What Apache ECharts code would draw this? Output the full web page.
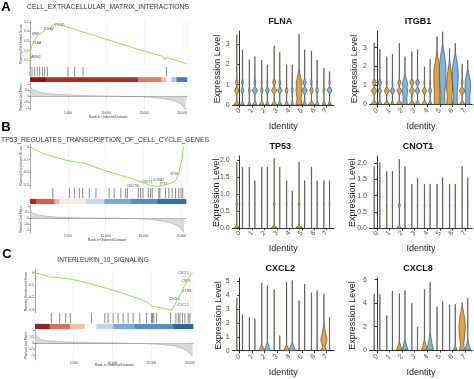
<!DOCTYPE html>
<html><head><meta charset="utf-8">
<script src="https://cdn.jsdelivr.net/npm/echarts@6/dist/echarts.min.js"></script>
<style>html,body{margin:0;padding:0;background:#fff}#c{width:474px;height:379px}</style>
</head><body><div id="c"></div>
<script>
// ================= DATA =================
// ---- GSEA panels ----
const rankTicks = [5000, 10000, 15000, 20000];
const metricTicks = [-1, -0.5, 0, 0.5, 1];

const titleA = 'CELL_EXTRACELLULAR_MATRIX_INTERACTIONS';
const esTicksA = [0.1, 0.2, 0.3, 0.4, 0.5];
const esA = [[0,0.03],[50,0.17],[175,0.24],[395,0.28],[833,0.34],[1184,0.37],[1623,0.39],[2061,0.42],[2500,0.43],[2939,0.46],[3377,0.48],[3900,0.47],[6000,0.42],[10000,0.32],[14000,0.22],[17500,0.14],[17720,0.105],[17950,0.13],[20570,0.065]];
const hitsA = [20,263,614,965,1272,1623,1930,2281,5000,5877,6974,17939];
const binsA = [[0,2149,1.0],[2149,14211,0.8],[14211,17281,0.5],[17281,17939,0.25],[17939,18596,0],[18596,19254,-0.3],[19254,20650,-0.7]];
const metricA = [[0,0.97],[30,0.78],[395,0.56],[1053,0.39],[2149,0.25],[3904,0.17],[6974,0.08],[11360,0.03],[14211,0],[15746,-0.06],[17500,-0.17],[18816,-0.33],[19693,-0.56],[20132,-0.78],[20395,-1.06],[20650,-1.12]];
const genesA = [['LAMB2',658,0.134],['FLNA',921,0.283],['VWF',724,0.371],['ITGAV',2460,0.426],['ITGB1',3947,0.468]];

const titleB = 'TP53_REGULATES_TRANSCRIPTION_OF_CELL_CYCLE_GENES';
const esTicksB = [-0.3, -0.2, -0.1, 0];
const esB = [[0,0],[175,-0.013],[1711,-0.052],[4781,-0.104],[7412,-0.131],[9167,-0.17],[11360,-0.209],[13553,-0.248],[14870,-0.279],[15965,-0.3],[17061,-0.308],[17939,-0.295],[18816,-0.279],[19254,-0.261],[19693,-0.209],[19912,-0.144],[20132,-0.091],[20263,-0.026],[20395,0]];
const hitsB = [3026,5219,5877,6535,6974,7851,8728,10482,11140,12018,12675,12895,14342,14649,14956,15658,15965,16184,17061,17193,17939,18377,18816,19254,19693,20000,20219];
const binsB = [[0,833,0.85],[833,3246,0.6],[3246,3904,0.3],[3904,7412,0.05],[7412,9825,-0.2],[9825,13333,-0.45],[13333,16842,-0.6],[16842,20650,-0.8]];
const metricB = [[0,0.97],[30,0.69],[395,0.42],[1053,0.28],[2149,0.17],[3904,0.08],[6974,0.03],[11360,0],[14430,-0.03],[16184,-0.11],[17500,-0.22],[18816,-0.42],[19693,-0.69],[20132,-0.97],[20400,-1.2]];
const genesB = [['CNOT6L',13680,-0.304],['CNOT1',15450,-0.271],['CCNA2',17000,-0.258],['TP53',17660,-0.292],['BTG2',19200,-0.21]];

const titleC = 'INTERLEUKIN_10_SIGNALING';
const esTicksC = [-0.3, -0.2, -0.1, 0];
const esC = [[0,0],[1034,-0.019],[2112,-0.038],[2543,-0.038],[4052,-0.046],[5776,-0.068],[7500,-0.095],[9224,-0.127],[10948,-0.159],[12672,-0.195],[14397,-0.235],[15043,-0.27],[15259,-0.268],[16121,-0.284],[17198,-0.297],[17629,-0.305],[17845,-0.284],[18276,-0.235],[18707,-0.181],[19138,-0.127],[19569,-0.073],[20000,-0.019],[20345,0]];
const hitsC = [2112,3190,3966,4569,7284,9009,9440,10086,10733,11379,12026,12672,13534,14397,15043,15172,15345,15690,17500,18190,18491,18707,19052,19353,19784,20000];
const binsC = [[0,1897,0.9],[1897,4483,0.55],[4483,6422,0.25],[6422,7931,0],[7931,10086,-0.25],[10086,12888,-0.45],[12888,17845,-0.6],[17845,20400,-0.85]];
const metricC = [[0,0.89],[172,0.54],[603,0.32],[1466,0.19],[3190,0.11],[6207,0.05],[10517,0],[13966,-0.03],[16121,-0.11],[17845,-0.22],[18922,-0.41],[19569,-0.62],[20000,-0.81],[20345,-1.08]];
const genesC = [['CXCL1',19148,-0.005],['CSF3',19470,-0.067],['IL1RN',19590,-0.148],['CXCL8',17970,-0.213],['CXCL2',19148,-0.262]];

// ---- Violin panels ----
const identities = ['0','1','2','3','4','5','6','7'];

const FLNA_ticks = [0,1,2,3];
const FLNA_levels = [0, 0.72, 1.12];
const FLNA_orangeMax = [3.46, 2.22, 2.22, 2.92, 1.98, 3.49, 2.67, 1.81];
const FLNA_blueMax   = [2.72, 2.39, 1.98, 2.59, 1.98, 2.72, 2.22, 1.65];
const FLNA_orangeShape = [[1,0.7,0.4],[0.5,0.25,0.1],[0.8,0.45,0.15],[0.9,0.9,0.5],[0.7,0.45,0.1],[[0,1],[0.3,0.6],[0.7,1],[0.9,0.8],[1.1,0.9],[1.5,0.3],[1.8,0.05]],[1,0.55,0.2],[0.6,0.3,0.1]];
const FLNA_blueShape = [[0.6,0.45,0.3],[0.7,0.9,0.3],[0.6,0.6,0.15],[0.7,0.65,0.3],[0.45,0.3,0.1],[0.7,0.8,0.55],[0.6,0.45,0.15],[0.6,0.8,0.2]];

const ITGB1_ticks = [0,1,2,3];
const ITGB1_levels = [0, 0.72, 1.15];
const ITGB1_orangeMax = [3.26, 2.52, 3.23, 2.79, 1.99, 3.58, 2.96, 2.13];
const ITGB1_blueMax   = [2.91, 2.66, 2.52, 2.91, 2.38, 3.84, 3.23, 2.35];
const ITGB1_orangeShape = [[1,0.9,0.6],[0.8,0.85,0.15],[0.9,0.75,0.5],[0.9,0.85,0.65],[0.8,0.7,0.15],[[0,0.9],[0.4,0.75],[0.8,0.9],[1.3,1.0],[1.8,0.95],[2.2,0.6],[2.6,0.2],[2.9,0.05]],[[0,0.9],[0.4,0.7],[0.9,0.95],[1.3,0.85],[1.8,0.5],[2.2,0.15],[2.5,0.03]],[0.8,0.95,0.3]];
const ITGB1_blueShape = [[0.6,0.5,0.55],[0.5,0.75,0.15],[[0,0.7],[0.35,0.55],[0.7,0.8],[0.9,0.65],[1.1,0.8],[1.4,0.35],[1.7,0.05]],[0.65,0.7,0.6],[0.6,0.5,0.2],[[0,0.7],[0.5,0.6],[1.0,0.85],[1.5,1.0],[2.0,1.0],[2.5,0.7],[2.9,0.3],[3.2,0.05]],[[0,0.7],[0.5,0.55],[1.0,0.8],[1.5,0.95],[2.0,0.8],[2.4,0.4],[2.7,0.1]],[[0,0.7],[0.4,0.6],[0.8,0.85],[1.2,0.8],[1.6,0.35],[1.9,0.05]]];

const TP53_ticks = [0,0.5,1,1.5,2];
const TP53_levels = [0, 0.7];
const TP53_orangeMax = [1.95, 1.8, 1.8, 2.07, 1.4, 1.95, 1.8, 1.4];
const TP53_blueMax   = [1.8, 1.4, 1.8, 1.8, 1.1, 1.4, 1.4, 1.4];
const TP53_orangeShape = [[0.8,0.3],[0.05,0.1],[0.05,0.1],[0.9,0.3],[0.05,0.1],[1.0,0.3],[0.05,0.1],[0.05,0.1]];
const TP53_blueShape = [[0.05,0.1],[0.05,0.1],[0.05,0.1],[0.05,0.1],[0.05,0.1],[0.05,0.1],[0.05,0.1],[0.05,0.1]];

const CNOT1_ticks = [0,0.5,1,1.5,2];
const CNOT1_levels = [0, 0.7];
const CNOT1_orangeMax = [1.9, 1.75, 2.12, 1.36, 1.36, 1.36, 1.36, 1.9];
const CNOT1_blueMax   = [2.02, 1.75, 1.9, 1.55, 1.36, 1.55, 1.36, 1.55];
const CNOT1_orangeShape = [[0.05,0.1],[0.05,0.1],[0.8,0.35],[0.05,0.1],[0.05,0.1],[0.05,0.1],[0.05,0.1],[0.05,0.1]];
const CNOT1_blueShape = [[0.05,0.1],[0.05,0.1],[0.05,0.1],[0.05,0.1],[0.05,0.1],[0.05,0.1],[0.05,0.1],[0.05,0.1]];

const CXCL2_ticks = [0,1,2,3,4,5];
const CXCL2_levels = [0];
const CXCL2_orangeMax = [3.8, 2.4, 4.88, 4.4, 4.93, 3.6, 4.16, 4.09];
const CXCL2_blueMax   = [2.6, 2.3, 4.69, 1.08, 5.05, 4.8, 4.33, 2.4];
const CXCL2_orangeShape = [[0.05],[0.05],[0.9],[0.05],[0.9],[0.05],[0.05],[[0,0.85],[0.3,0.4],[0.75,1.0],[1.2,0.6],[1.7,0.2],[2.1,0.03]]];
const CXCL2_blueShape = [[0.05],[0.05],[[0,1.0],[0.25,0.6],[0.6,0]],[0.05],[[0,1.0],[0.25,0.6],[0.6,0]],[0.05],[0.05],[0.05]];

const CXCL8_ticks = [0,2,4,6];
const CXCL8_levels = [0];
const CXCL8_orangeMax = [4.8, 2.93, 4.8, 3.97, 5.17, 3.69, 3.85, 4.05];
const CXCL8_blueMax   = [4.75, 5.03, 5.08, 1.96, 5.78, 4.13, 3.91, 4.41];
const CXCL8_orangeShape = [[0.05],[0.05],[[0,0.85],[0.3,0.5],[0.7,0]],[0.05],[[0,0.9],[0.4,0.5],[0.9,0]],[0.05],[0.05],[[0,0.8],[0.5,0.5],[1.2,0.8],[2.0,1.0],[2.7,0.8],[3.3,0.4],[3.8,0.05]]];
const CXCL8_blueShape = [[0.05],[0.05],[[0,0.95],[0.4,0.5],[0.9,0]],[0.05],[[0,1.0],[0.5,0.6],[1.0,0.3],[1.6,0]],[0.05],[[0,0.55],[0.4,0]],[[0,0.85],[0.4,0.4],[0.9,0]]];

// ================= RENDERING =================
const FONT = '"Liberation Sans", Arial, Helvetica, sans-serif';
const ORANGE = '#E3A33A', BLUE = '#7AB6DF';
const grids = [], xAxes = [], yAxes = [], series = [], graphics = [], barSeriesIdx = [];

function addGrid(g, xa, ya) {
  grids.push(g); const i = grids.length - 1;
  xa.gridIndex = i; ya.gridIndex = i; xAxes.push(xa); yAxes.push(ya); return i;
}
function txt(x, y, text, size, o) {
  o = o || {};
  graphics.push({type:'text', x, y, rotation:o.rot || 0, silent:true,
    style:{text, fontSize:size, fontFamily:FONT, fontWeight:o.bold ? 'bold' : 'normal', fill:o.color || '#222', align:'center', verticalAlign:'middle'}});
}

function gsea(p) {
  const gridLine = {show:true, lineStyle:{color:'#e4e4e4', width:0.5}};
  const axLine = {show:true, lineStyle:{color:'#555', width:0.5}};
  const g1 = addGrid({left:p.left, top:p.esTop, width:p.width, height:p.esH},
    {type:'value', min:0, max:p.rankMax, interval:5000, axisLine:{show:false}, axisTick:{show:false}, axisLabel:{show:false}, splitLine:gridLine},
    {type:'value', min:p.esMin, max:p.esMax, axisLine:axLine,
      axisTick:{show:true, length:1.2, customValues:p.esTicks, lineStyle:{color:'#555', width:0.5}},
      axisLabel:{customValues:p.esTicks, fontSize:3.2, color:'#444', margin:1.2, fontFamily:FONT},
      splitLine:{show:false}});
  series.push({type:'line', xAxisIndex:g1, yAxisIndex:g1, data:p.es, symbol:'none', silent:true,
    lineStyle:{color:'#90d24f', width:0.9}});
  series.push({type:'scatter', xAxisIndex:g1, yAxisIndex:g1, silent:true, symbolSize:1,
    itemStyle:{color:'rgba(0,0,0,0)'},
    data:p.genes.map(d => ({name:d[0], value:[d[1], d[2]]})),
    label:{show:true, position:'inside', formatter:'{b}', fontSize:3.4, color:'#222', fontFamily:FONT}});
  const g2 = addGrid({left:p.left, top:p.barTop, width:p.width, height:p.barH},
    {type:'value', min:0, max:p.rankMax, show:false},
    {type:'value', min:0, max:1, show:false});
  barSeriesIdx.push(series.length);
  series.push({type:'custom', xAxisIndex:g2, yAxisIndex:g2, silent:true, data:p.bins, encode:{x:[0,1], y:2},
    renderItem:(params, api) => {
      const a = api.coord([api.value(0), 0]), b = api.coord([api.value(1), 0.32]);
      return {type:'rect', shape:{x:a[0], y:b[1], width:b[0]-a[0]+0.3, height:a[1]-b[1]}, style:{fill:api.visual('color')}};
    }});
  series.push({type:'custom', xAxisIndex:g2, yAxisIndex:g2, silent:true, data:p.hits.map(r => [r, 1]), encode:{x:0, y:1},
    renderItem:(params, api) => {
      const a = api.coord([api.value(0), 0.36]), b = api.coord([api.value(0), 1]);
      return {type:'line', shape:{x1:a[0], y1:a[1], x2:b[0], y2:b[1]}, style:{stroke:'#3a3a3a', lineWidth:0.6}};
    }});
  const g3 = addGrid({left:p.left, top:p.lowTop, width:p.width, height:p.lowH},
    {type:'value', min:0, max:p.rankMax, interval:5000, axisLine:axLine,
      axisTick:{show:true, length:1.2, customValues:rankTicks, lineStyle:{color:'#555', width:0.5}},
      axisLabel:{customValues:rankTicks, fontSize:3.2, color:'#444', margin:1.2, fontFamily:FONT}, splitLine:gridLine},
    {type:'value', min:p.lowMin, max:p.lowMax, axisLine:axLine,
      axisTick:{show:true, length:1.2, customValues:metricTicks, lineStyle:{color:'#555', width:0.5}},
      axisLabel:{customValues:metricTicks, fontSize:3, color:'#444', margin:1.2, fontFamily:FONT}, splitLine:{show:false}});
  series.push({type:'line', xAxisIndex:g3, yAxisIndex:g3, data:p.metric, symbol:'none', silent:true,
    lineStyle:{color:'#9a9a9a', width:0.5}, areaStyle:{color:'#c9c9c9', origin:0}});
}

function peakKnots(levels, widths, span) {
  const k = [];
  levels.forEach((lv, i) => {
    const w = widths[i] || 0;
    if (lv === 0) k.push([0, w], [span, 0]);
    else k.push([lv - span, 0], [lv, w], [lv + span, 0]);
  });
  return k;
}

function violinSeries(gi, maxArr, shapes, levels, span, side, color) {
  return {
    type:'custom', xAxisIndex:gi, yAxisIndex:gi, silent:true,
    data:maxArr.map((m, i) => [i, m]), encode:{x:0, y:1},
    renderItem:(params, api) => {
      const i = params.dataIndex, cat = api.value(0), mx = api.value(1);
      const band = api.size([1, 0])[0];
      const cx = api.coord([cat, 0])[0] + side * band * 0.225;
      const half = band * 0.26;
      let knots = shapes[i];
      if (typeof knots[0] === 'number') knots = peakKnots(levels, knots, span);
      knots = knots.filter(k => k[0] < mx).sort((a, b) => a[0] - b[0]);
      knots.push([mx, 0]);
      const R = [], L = [];
      knots.forEach(([y, w]) => {
        const py = api.coord([cat, y])[1];
        const hw = Math.max(w * half, 0.12);
        R.push([cx + hw, py]); L.push([cx - hw, py]);
      });
      return {type:'polygon', shape:{points:R.concat(L.reverse())}, style:{fill:color, stroke:'#3a3a3a', lineWidth:0.6}};
    }
  };
}

function violinPanel(c) {
  const idx = [0,1,2,3,4,5,6,7];
  const g = addGrid({left:c.left, top:c.top, width:c.width, height:c.height},
    {type:'value', min:-0.6, max:7.6, axisLine:{show:true, lineStyle:{color:'#000', width:0.8}},
      axisTick:{show:true, length:2.5, customValues:idx, lineStyle:{color:'#000', width:0.8}},
      axisLabel:{customValues:idx, rotate:45, fontSize:7, color:'#4d4d4d', margin:2.5, fontFamily:FONT, formatter:v => identities[v]},
      splitLine:{show:false}},
    {type:'value', min:c.min, max:c.max, axisLine:{show:true, lineStyle:{color:'#000', width:0.8}},
      axisTick:{show:true, length:2.5, customValues:c.ticks, lineStyle:{color:'#000', width:0.8}},
      axisLabel:{customValues:c.ticks, fontSize:7, color:'#4d4d4d', margin:2.5, fontFamily:FONT, formatter:c.fmt || (v => String(v))},
      splitLine:{show:false}});
  series.push(violinSeries(g, c.oMax, c.oShape, c.levels, c.span, -1, ORANGE));
  series.push(violinSeries(g, c.bMax, c.bShape, c.levels, c.span, 1, BLUE));
  txt(c.left + c.width / 2 - 3, c.top - 9.5, c.title, 9, {bold:true, color:'#111'});
  txt(c.ylabX, c.top + c.height / 2, 'Expression Level', 9, {rot:Math.PI / 2, color:'#222'});
  txt(c.left + c.width / 2, c.top + c.height + 19.5, 'Identity', 9, {color:'#222'});
}

gsea({left:30, width:157, rankMax:20650, esTop:21, esH:46, esMin:0.03, esMax:0.51, esTicks:esTicksA, es:esA, genes:genesA,
  barTop:67, barH:15, bins:binsA, hits:hitsA, lowTop:83, lowH:27, lowMin:-1.12, lowMax:1.12, metric:metricA});
gsea({left:30, width:156, rankMax:20650, esTop:144.3, esH:43.7, esMin:-0.32, esMax:0.02, esTicks:esTicksB, es:esB, genes:genesB,
  barTop:188, barH:16, bins:binsB, hits:hitsB, lowTop:205, lowH:28, lowMin:-1.22, lowMax:1.1, metric:metricB});
gsea({left:35, width:158, rankMax:20400, esTop:270, esH:42.7, esMin:-0.325, esMax:0.022, esTicks:esTicksC, es:esC, genes:genesC,
  barTop:313, barH:16, bins:binsC, hits:hitsC, lowTop:330, lowH:30, lowMin:-1.37, lowMax:1.05, metric:metricC});

txt(6, 7, 'A', 13, {bold:true, color:'#000'});
txt(6, 127.5, 'B', 13, {bold:true, color:'#000'});
txt(7, 254.5, 'C', 13, {bold:true, color:'#000'});
txt(108, 7, titleA, 6.8, {color:'#333'});
txt(105, 140, titleB, 6.8, {color:'#333'});
txt(103, 260, titleC, 6.4, {color:'#333'});
[[20.7, 44, 97, 108, 117], [20.7, 166, 219, 107, 240], [26, 291.5, 345, 114, 365]].forEach(a => {
  txt(a[0], a[1], 'Running Enrichment Score', 3.3, {rot:Math.PI / 2, color:'#333'});
  txt(a[0], a[2], 'Ranked List Metric', 3.3, {rot:Math.PI / 2, color:'#333'});
  txt(a[3], a[4], 'Rank in Ordered Dataset', 3.5, {color:'#333'});
});

const fmt1 = v => v.toFixed(1);
violinPanel({title:'FLNA', left:232.2, top:31, width:102, height:76, min:-0.1, max:3.65, ticks:FLNA_ticks, levels:FLNA_levels, span:0.2,
  oMax:FLNA_orangeMax, bMax:FLNA_blueMax, oShape:FLNA_orangeShape, bShape:FLNA_blueShape, ylabX:218});
violinPanel({title:'ITGB1', left:369.5, top:31, width:103, height:76, min:-0.14, max:3.88, ticks:ITGB1_ticks, levels:ITGB1_levels, span:0.22,
  oMax:ITGB1_orangeMax, bMax:ITGB1_blueMax, oShape:ITGB1_orangeShape, bShape:ITGB1_blueShape, ylabX:355});
violinPanel({title:'TP53', left:232.2, top:156, width:102, height:73.5, min:-0.05, max:2.13, ticks:TP53_ticks, levels:TP53_levels, span:0.08, fmt:fmt1,
  oMax:TP53_orangeMax, bMax:TP53_blueMax, oShape:TP53_orangeShape, bShape:TP53_blueShape, ylabX:217});
violinPanel({title:'CNOT1', left:369.5, top:156, width:103, height:73.5, min:-0.04, max:2.22, ticks:CNOT1_ticks, levels:CNOT1_levels, span:0.08, fmt:fmt1,
  oMax:CNOT1_orangeMax, bMax:CNOT1_blueMax, oShape:CNOT1_orangeShape, bShape:CNOT1_blueShape, ylabX:353});
violinPanel({title:'CXCL2', left:232.2, top:278, width:102, height:75, min:-0.17, max:5.23, ticks:CXCL2_ticks, levels:CXCL2_levels, span:0.45,
  oMax:CXCL2_orangeMax, bMax:CXCL2_blueMax, oShape:CXCL2_orangeShape, bShape:CXCL2_blueShape, ylabX:219});
violinPanel({title:'CXCL8', left:369.5, top:278, width:103, height:75, min:-0.25, max:6.14, ticks:CXCL8_ticks, levels:CXCL8_levels, span:0.6,
  oMax:CXCL8_orangeMax, bMax:CXCL8_blueMax, oShape:CXCL8_orangeShape, bShape:CXCL8_blueShape, ylabX:353});

const chart = echarts.init(document.getElementById('c'), null, {renderer:'canvas'});
chart.setOption({
  animation:false,
  textStyle:{fontFamily:FONT},
  grid:grids, xAxis:xAxes, yAxis:yAxes, series:series, graphic:graphics,
  visualMap:[{type:'continuous', show:false, seriesIndex:barSeriesIdx, dimension:2, min:-1, max:1,
    inRange:{color:['#1f4e8c','#3a72b5','#6a9fd2','#bcd5ea','#f7f7f7','#f6c0a8','#e27b66','#b8322b','#8a1418']}}]
});
</script>
</body></html>
